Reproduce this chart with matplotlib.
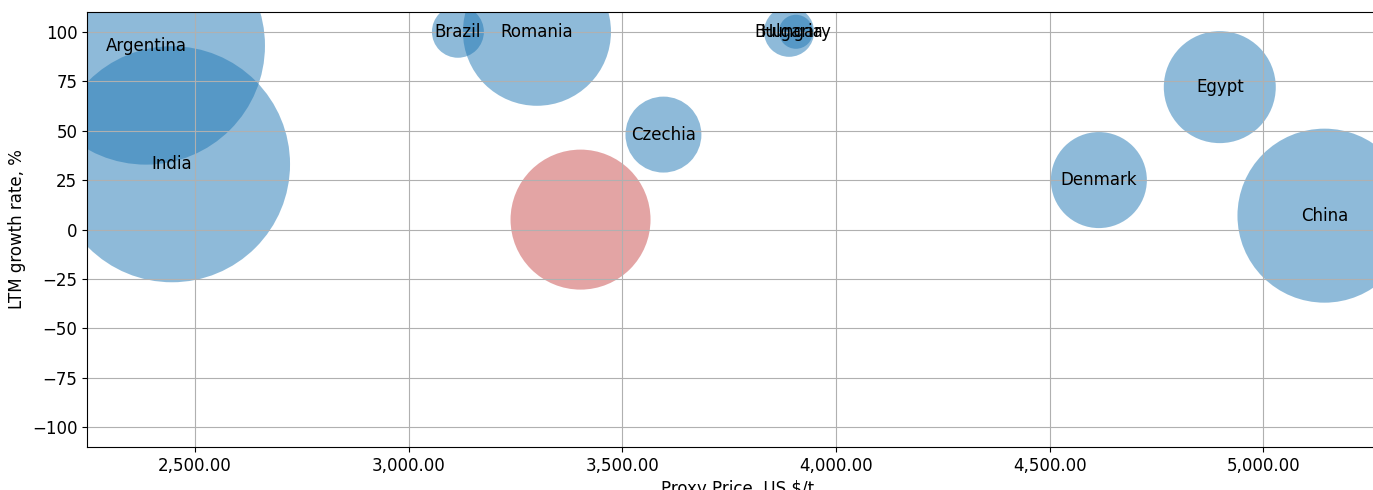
import numpy as np
import matplotlib.pyplot as plt
from matplotlib.ticker import FuncFormatter

# bubble data: proxy price (US$/t), LTM growth (%), volume
countries = ['Argentina', 'India', 'Brazil', 'Romania', '', 'Bulgaria', 'Hungary',
             'Czechia', 'Denmark', 'Egypt', 'China']
price = [2385, 2446, 3115, 3300, 3402, 3890, 3906, 3596, 4615, 4898, 5143]
growth = [93, 33, 100, 100, 5, 100, 100, 48, 25, 72, 7]
volume = [2937, 2888, 140, 1136, 1016, 130, 60, 299, 478, 650, 1570]
highlight = [False, False, False, False, True, False, False, False, False, False, False]

plt.rcParams['font.size'] = 12

fig = plt.figure(figsize=(13.73, 4.9), dpi=100)
# axes runs a little past the right edge of the picture (cropped)
ax = fig.add_axes([87 / 1373, 43 / 490, (1389 - 87) / 1373, 435 / 490])

colors = ['#c84a4a' if h else 'tab:blue' for h in highlight]
sizes = np.array(volume) * 10
ax.scatter(price, growth, s=sizes, c=colors, alpha=0.5, linewidths=0)

for name, x, y in zip(countries, price, growth):
    if name:
        ax.text(x, y, name, ha='center', va='center', fontsize=12)

ax.set_xlim(2247, 5294)
ax.set_ylim(-110, 110)
ax.set_xticks([2500, 3000, 3500, 4000, 4500, 5000])
ax.set_yticks(np.arange(-100, 101, 25))
ax.xaxis.set_major_formatter(FuncFormatter(lambda v, p: f'{v:,.2f}'))
ax.grid(True)
ax.set_xlabel('Proxy Price, US $/t')
ax.set_ylabel('LTM growth rate, %')

fig.savefig('out.png', dpi=100)
